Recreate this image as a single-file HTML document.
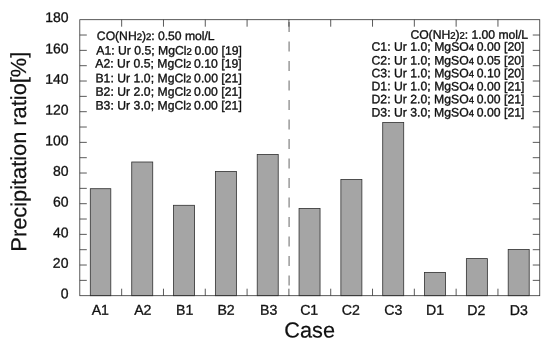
<!DOCTYPE html>
<html><head><meta charset="utf-8"><title>Precipitation ratio</title>
<style>html,body{margin:0;padding:0;background:#fff;}svg{display:block;white-space:pre;font-family:"Liberation Sans",Arial,sans-serif;fill:#111;}</style></head><body>
<svg width="550" height="350" viewBox="0 0 550 350">
<rect width="550" height="350" fill="#fff"/>
<line x1="289.10" y1="22.0" x2="289.10" y2="295.70" stroke="#8a8a8a" stroke-width="1.3" stroke-dasharray="9.9 9.6"/>
<rect x="90.30" y="188.70" width="20.50" height="107.00" fill="#a5a5a5" stroke="#303030" stroke-width="0.8"/>
<rect x="131.73" y="162.00" width="21.00" height="133.70" fill="#a5a5a5" stroke="#303030" stroke-width="0.8"/>
<rect x="173.56" y="205.30" width="21.00" height="90.40" fill="#a5a5a5" stroke="#303030" stroke-width="0.8"/>
<rect x="215.39" y="171.50" width="21.00" height="124.20" fill="#a5a5a5" stroke="#303030" stroke-width="0.8"/>
<rect x="257.22" y="154.40" width="21.00" height="141.30" fill="#a5a5a5" stroke="#303030" stroke-width="0.8"/>
<rect x="299.05" y="208.45" width="21.00" height="87.25" fill="#a5a5a5" stroke="#303030" stroke-width="0.8"/>
<rect x="340.88" y="179.40" width="21.00" height="116.30" fill="#a5a5a5" stroke="#303030" stroke-width="0.8"/>
<rect x="382.71" y="122.55" width="21.00" height="173.15" fill="#a5a5a5" stroke="#303030" stroke-width="0.8"/>
<rect x="424.54" y="272.40" width="21.00" height="23.30" fill="#a5a5a5" stroke="#303030" stroke-width="0.8"/>
<rect x="466.37" y="258.60" width="21.00" height="37.10" fill="#a5a5a5" stroke="#303030" stroke-width="0.8"/>
<rect x="508.20" y="249.40" width="21.00" height="46.30" fill="#a5a5a5" stroke="#303030" stroke-width="0.8"/>
<path d="M79.80 280.37h7M539.75 280.37h-7M79.80 265.03h7M539.75 265.03h-7M79.80 249.70h7M539.75 249.70h-7M79.80 234.37h7M539.75 234.37h-7M79.80 219.03h7M539.75 219.03h-7M79.80 203.70h7M539.75 203.70h-7M79.80 188.37h7M539.75 188.37h-7M79.80 173.03h7M539.75 173.03h-7M79.80 157.70h7M539.75 157.70h-7M79.80 142.37h7M539.75 142.37h-7M79.80 127.03h7M539.75 127.03h-7M79.80 111.70h7M539.75 111.70h-7M79.80 96.37h7M539.75 96.37h-7M79.80 81.03h7M539.75 81.03h-7M79.80 65.70h7M539.75 65.70h-7M79.80 50.37h7M539.75 50.37h-7M79.80 35.03h7M539.75 35.03h-7M121.66 19.70v7M121.66 295.70v-7M163.47 19.70v7M163.47 295.70v-7M205.28 19.70v7M205.28 295.70v-7M247.09 19.70v7M247.09 295.70v-7M288.90 19.70v7M288.90 295.70v-7M330.71 19.70v7M330.71 295.70v-7M372.52 19.70v7M372.52 295.70v-7M414.33 19.70v7M414.33 295.70v-7M456.14 19.70v7M456.14 295.70v-7M497.95 19.70v7M497.95 295.70v-7" stroke="#303030" stroke-width="0.8" fill="none"/>
<rect x="79.80" y="19.70" width="459.95" height="276.00" fill="none" stroke="#303030" stroke-width="0.8"/>
<g font-size="14.0" text-anchor="end" stroke="#111" stroke-width="0.3" transform="rotate(0.03 68 150)">
<text x="68.5" y="298.25">0</text>
<text x="68.5" y="267.88">20</text>
<text x="68.5" y="237.22">40</text>
<text x="68.5" y="206.55">60</text>
<text x="68.5" y="175.88">80</text>
<text x="68.5" y="145.22">100</text>
<text x="68.5" y="114.55">120</text>
<text x="68.5" y="83.88">140</text>
<text x="68.5" y="53.22">160</text>
<text x="68.5" y="21.95">180</text>
</g>
<g font-size="14.15" text-anchor="middle" stroke="#111" stroke-width="0.3" transform="rotate(0.03 300 175)">
<text x="100.41" y="314.8">A1</text>
<text x="142.92" y="314.8">A2</text>
<text x="184.73" y="314.8">B1</text>
<text x="226.15" y="314.8">B2</text>
<text x="268.76" y="314.8">B3</text>
<text x="309.27" y="314.8">C1</text>
<text x="350.79" y="314.8">C2</text>
<text x="393.40" y="314.8">C3</text>
<text x="435.22" y="314.8">D1</text>
<text x="476.43" y="314.8">D2</text>
<text x="518.84" y="314.8">D3</text>
</g>
<text x="309.7" y="337.4" transform="rotate(0.03 300 337)" font-size="21.7" text-anchor="middle" stroke="#111" stroke-width="0.2">Case</text>
<text transform="translate(26.1 151.7) rotate(-90.03)" font-size="21.8" stroke="#111" stroke-width="0.2" text-anchor="middle">Precipitation ratio[%]</text>
<g font-size="12.2" stroke="#111" stroke-width="0.35" transform="rotate(0.03 300 175)">
<text x="96.8" y="40.1" xml:space="preserve" letter-spacing="-0.03">CO(NH<tspan font-size="9.5">2</tspan>)<tspan font-size="9.5">2</tspan>: 0.50 mol/L</text>
<text x="96.3" y="54.7" xml:space="preserve" letter-spacing="0">A1: Ur 0.5; MgCl<tspan font-size="9.5">2 </tspan>0.00 [19]</text>
<text x="95.2" y="67.7" xml:space="preserve" letter-spacing="0.04">A2: Ur 0.5; MgCl<tspan font-size="9.5">2 </tspan>0.10 [19]</text>
<text x="95.4" y="82.4" xml:space="preserve" letter-spacing="0.035">B1: Ur 1.0; MgCl<tspan font-size="9.5">2 </tspan>0.00 [21]</text>
<text x="95.4" y="95.8" xml:space="preserve" letter-spacing="0.035">B2: Ur 2.0; MgCl<tspan font-size="9.5">2 </tspan>0.00 [21]</text>
<text x="95.4" y="109.6" xml:space="preserve" letter-spacing="0.035">B3: Ur 3.0; MgCl<tspan font-size="9.5">2 </tspan>0.00 [21]</text>
</g>
<g font-size="12.2" text-anchor="end" stroke="#111" stroke-width="0.35" transform="rotate(0.03 300 175)">
<text x="528.0" y="38.7" xml:space="preserve" letter-spacing="-0.03">CO(NH<tspan font-size="9.5">2</tspan>)<tspan font-size="9.5">2</tspan>: 1.00 mol/L</text>
<text x="524.4" y="50.6" xml:space="preserve" letter-spacing="0.025">C1: Ur 1.0; MgSO<tspan font-size="9.5">4 </tspan>0.00 [20]</text>
<text x="524.4" y="64.4" xml:space="preserve" letter-spacing="0.025">C2: Ur 1.0; MgSO<tspan font-size="9.5">4 </tspan>0.05 [20]</text>
<text x="524.4" y="77.2" xml:space="preserve" letter-spacing="0.025">C3: Ur 1.0; MgSO<tspan font-size="9.5">4 </tspan>0.10 [20]</text>
<text x="524.4" y="90.3" xml:space="preserve" letter-spacing="0.025">D1: Ur 1.0; MgSO<tspan font-size="9.5">4 </tspan>0.00 [21]</text>
<text x="524.4" y="103.1" xml:space="preserve" letter-spacing="0.025">D2: Ur 2.0; MgSO<tspan font-size="9.5">4 </tspan>0.00 [21]</text>
<text x="524.4" y="116.5" xml:space="preserve" letter-spacing="0.025">D3: Ur 3.0; MgSO<tspan font-size="9.5">4 </tspan>0.00 [21]</text>
</g>
</svg></body></html>
